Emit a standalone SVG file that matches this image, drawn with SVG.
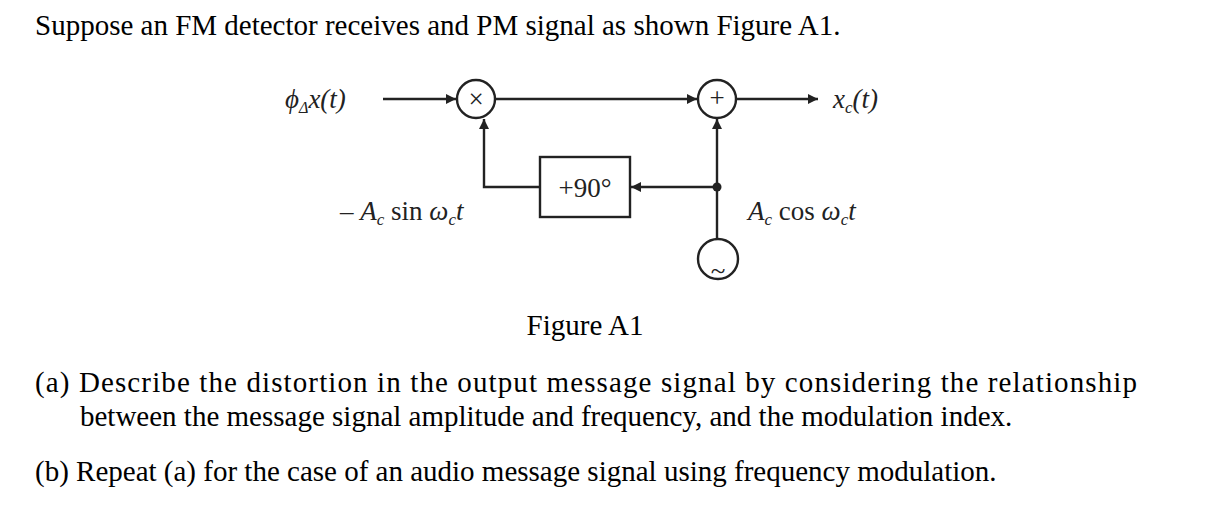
<svg xmlns="http://www.w3.org/2000/svg" width="1207" height="506" viewBox="0 0 1207 506">
<style>
.t{font-family:"Liberation Serif",serif;font-size:29px;fill:#000}
.d{font-family:"Liberation Serif",serif;font-size:27px;fill:#222}
.i{font-style:italic}
.s{stroke:#222;stroke-width:2.4;fill:none}
</style>
<defs><marker id="a" viewBox="0 0 10 10" refX="10" refY="5" markerWidth="16" markerHeight="10" markerUnits="userSpaceOnUse" orient="auto"><path d="M0,0L10,5L0,10z" fill="#222"/></marker></defs>
<rect width="1207" height="506" fill="#fff"/>
<text class="t" x="35" y="35">Suppose an FM detector receives and PM signal as shown Figure A1.</text>
<g id="in"><text class="d i" x="285" y="108">ϕ<tspan font-size="16" dy="5">Δ</tspan><tspan dy="-5">x(t)</tspan></text></g>
<g id="mult"><circle class="s" cx="476" cy="99" r="19"/><text class="d" x="476" y="108" text-anchor="middle" font-size="24">×</text></g>
<g id="sum"><circle class="s" cx="717" cy="99" r="19"/><text class="d" x="717" y="107" text-anchor="middle" font-size="24">+</text></g>
<g id="out"><text class="d i" x="833" y="108">x<tspan font-size="17" dy="5">c</tspan><tspan dy="-5">(t)</tspan></text></g>
<g id="phase"><rect class="s" x="540" y="157" width="90" height="60"/><text class="d" x="585" y="197" text-anchor="middle">+90°</text></g>
<g id="osc"><circle class="s" cx="718" cy="259" r="20"/><text class="d" x="718" y="280" text-anchor="middle" font-size="64">~</text></g>
<g id="labels">
<text class="d" x="340" y="220">– <tspan class="i">A</tspan><tspan class="i" font-size="17" dy="5">c</tspan><tspan dy="-5"> sin </tspan><tspan class="i">ω</tspan><tspan class="i" font-size="17" dy="5">c</tspan><tspan class="i" dy="-5">t</tspan></text>
<text class="d" x="748" y="220"><tspan class="i">A</tspan><tspan class="i" font-size="17" dy="5">c</tspan><tspan dy="-5"> cos </tspan><tspan class="i">ω</tspan><tspan class="i" font-size="17" dy="5">c</tspan><tspan class="i" dy="-5">t</tspan></text>
</g>
<g id="connectors">
<line class="s" x1="383" y1="99" x2="456" y2="99" marker-end="url(#a)"/>
<line class="s" x1="495" y1="99" x2="697" y2="99" marker-end="url(#a)"/>
<line class="s" x1="736" y1="99" x2="818" y2="99" marker-end="url(#a)"/>
<polyline class="s" points="540,187 484,187 484,119" marker-end="url(#a)"/>
<line class="s" x1="717" y1="239" x2="717" y2="119" marker-end="url(#a)"/>
<line class="s" x1="717" y1="187" x2="631" y2="187" marker-end="url(#a)"/>
<circle cx="717" cy="187" r="4.5" fill="#222"/>
</g>
<text class="t" x="585" y="335" text-anchor="middle">Figure A1</text>
<text class="t" x="35" y="392" textLength="1102">(a) Describe the distortion in the output message signal by considering the relationship</text>
<text class="t" x="80" y="426">between the message signal amplitude and frequency, and the modulation index.</text>
<text class="t" x="35" y="481">(b) Repeat (a) for the case of an audio message signal using frequency modulation.</text>
</svg>
